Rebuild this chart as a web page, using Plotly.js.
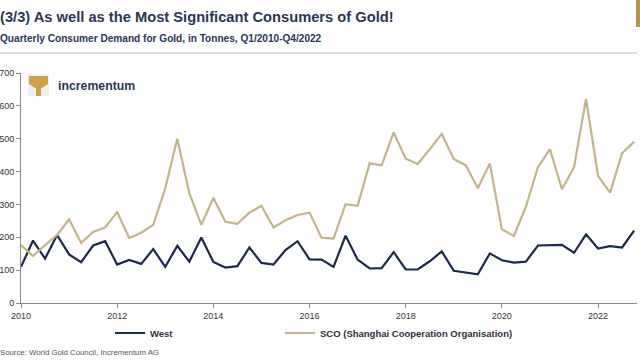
<!DOCTYPE html>
<html>
<head>
<meta charset="utf-8">
<script src="https://cdn.plot.ly/plotly-3.0.1.min.js"></script>
<style>
html,body{margin:0;padding:0;background:#fff;}
#chart{width:640px;height:360px;}
</style>
</head>
<body>
<div id="chart"></div>
<script>
// ---- data (tonnes, quarterly) ----
const quarters = [
 "Q1/2010","Q2/2010","Q3/2010","Q4/2010",
 "Q1/2011","Q2/2011","Q3/2011","Q4/2011",
 "Q1/2012","Q2/2012","Q3/2012","Q4/2012",
 "Q1/2013","Q2/2013","Q3/2013","Q4/2013",
 "Q1/2014","Q2/2014","Q3/2014","Q4/2014",
 "Q1/2015","Q2/2015","Q3/2015","Q4/2015",
 "Q1/2016","Q2/2016","Q3/2016","Q4/2016",
 "Q1/2017","Q2/2017","Q3/2017","Q4/2017",
 "Q1/2018","Q2/2018","Q3/2018","Q4/2018",
 "Q1/2019","Q2/2019","Q3/2019","Q4/2019",
 "Q1/2020","Q2/2020","Q3/2020","Q4/2020",
 "Q1/2021","Q2/2021","Q3/2021","Q4/2021",
 "Q1/2022","Q2/2022","Q3/2022","Q4/2022"
];
const west = [
 110,190,135,207, 148,124,175,188, 117,131,119,164, 110,174,126,199,
 125,108,112,169, 122,117,161,188, 133,132,110,205, 132,105,106,155,
 102,102,127,157, 98,93,87,151, 130,123,126,175, 175,177,153,209,
 166,173,169,220
];
const sco = [
 176,143,176,207, 255,183,216,230, 277,198,214,238, 349,500,334,238,
 320,247,241,275, 296,230,252,268, 275,199,196,301, 296,425,419,519,
 439,423,468,515, 438,419,349,425, 224,204,293,413, 468,346,413,621,
 387,336,456,491
];
const seriesNames = ["West", "SCO (Shanghai Cooperation Organisation)"];
const yTicks = [0,100,200,300,400,500,600,700];
const xTicks = [2010,2012,2014,2016,2018,2020,2022];

// quarter label -> decimal year position
const xPos = quarters.map(q => {
  const [qq, yy] = q.split("/");
  return Number(yy) + (Number(qq.slice(1)) - 1) / 4;
});

// ---- layout helpers (pixel -> paper) ----
const M = {l:21, r:3, t:73, b:57};
const PW = 640 - M.l - M.r, PH = 360 - M.t - M.b;
const px = x => (x - M.l) / PW;
const py = y => (360 - M.b - y) / PH;

const NAVY = "#2b3656";
const sans = "Arial, 'Liberation Sans', sans-serif";
const legendFont = {family: sans, size: 9.5, color: "#2f2f3a", weight: "bold"};

const traces = [
  {x: xPos, y: west, name: seriesNames[0], type: "scatter", mode: "lines",
   line: {color: "#1c2a4a", width: 2.2}, legend: "legend"},
  {x: xPos, y: sco, name: seriesNames[1], type: "scatter", mode: "lines",
   line: {color: "#c4b48a", width: 2.2}, legend: "legend2"}
];

const layout = {
  width: 640, height: 360,
  margin: {l: M.l, r: M.r, t: M.t, b: M.b, autoexpand: false},
  paper_bgcolor: "#ffffff", plot_bgcolor: "#ffffff",
  showlegend: true,
  xaxis: {
    range: [2010, 2022.81], tickvals: xTicks, ticktext: xTicks.map(String),
    showgrid: false, zeroline: false, showline: true, linecolor: "#8a8a8a", linewidth: 1,
    ticks: "outside", ticklen: 4, tickcolor: "#8a8a8a",
    tickfont: {family: sans, size: 9, color: "#333333"}
  },
  yaxis: {
    range: [0, 700], tickvals: yTicks,
    showgrid: false, zeroline: false, showline: true, linecolor: "#8a8a8a", linewidth: 1,
    ticks: "outside", ticklen: 4, tickcolor: "#8a8a8a",
    tickfont: {family: sans, size: 9, color: "#333333"}
  },
  legend: {
    orientation: "h", x: px(110), y: py(333), xanchor: "left", yanchor: "middle",
    font: legendFont, bgcolor: "rgba(0,0,0,0)", itemwidth: 30
  },
  legend2: {
    orientation: "h", x: px(280), y: py(333), xanchor: "left", yanchor: "middle",
    font: legendFont, bgcolor: "rgba(0,0,0,0)", itemwidth: 30
  },
  shapes: [
    // separator under header
    {type: "line", xref: "paper", yref: "paper", x0: px(0), x1: px(637), y0: py(53), y1: py(53),
     line: {color: "#dcdcdc", width: 2}},
    // gold bar at top right
    {type: "rect", xref: "paper", yref: "paper", x0: px(636), x1: px(641), y0: py(0), y1: py(27),
     fillcolor: "#b8954a", line: {width: 0}},
    // logo background
    {type: "rect", xref: "paper", yref: "paper", x0: px(28), x1: px(49), y0: py(96), y1: py(74),
     fillcolor: "#eef0f3", line: {width: 0}},
    // logo canopy
    {type: "path", xref: "paper", yref: "paper",
     path: `M ${px(29)} ${py(76)} L ${px(48)} ${py(76)} L ${px(48)} ${py(84)} L ${px(42)} ${py(88)} L ${px(35)} ${py(88)} L ${px(29)} ${py(84)} Z`,
     fillcolor: "#c9a24a", line: {width: 0}},
    // logo trunk
    {type: "rect", xref: "paper", yref: "paper", x0: px(36), x1: px(41), y0: py(96), y1: py(86),
     fillcolor: "#c9a24a", line: {width: 0}}
  ],
  annotations: [
    {text: "(3/3) As well as the Most Significant Consumers of Gold!", xref: "paper", yref: "paper",
     x: px(-2), y: py(17.5), xanchor: "left", yanchor: "middle", showarrow: false,
     font: {family: sans, size: 14.7, color: NAVY, weight: "bold"}},
    {text: "Quarterly Consumer Demand for Gold, in Tonnes, Q1/2010-Q4/2022", xref: "paper", yref: "paper",
     x: px(-2), y: py(38.5), xanchor: "left", yanchor: "middle", showarrow: false,
     font: {family: sans, size: 10.1, color: NAVY, weight: "bold"}},
    {text: "incrementum", xref: "paper", yref: "paper",
     x: px(56), y: py(86), xanchor: "left", yanchor: "middle", showarrow: false,
     font: {family: sans, size: 12.3, color: NAVY, weight: "bold"}},
    {text: "Source: World Gold Council, Incrementum AG", xref: "paper", yref: "paper",
     x: px(-2), y: py(352), xanchor: "left", yanchor: "middle", showarrow: false,
     font: {family: sans, size: 7.8, color: "#555555"}}
  ]
};

Plotly.newPlot("chart", traces, layout, {staticPlot: true, displayModeBar: false});
</script>
</body>
</html>
